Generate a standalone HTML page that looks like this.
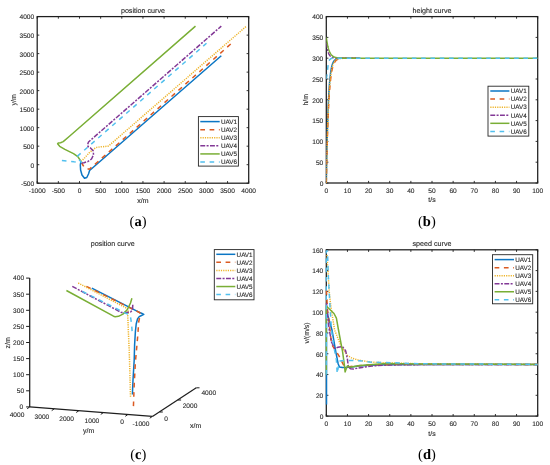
<!DOCTYPE html>
<html><head><meta charset="utf-8"><style>
html,body{margin:0;padding:0;background:#fff;}
svg{display:block;}
#w{width:550px;height:465px;}
text{font-family:"Liberation Sans",Arial,sans-serif;text-rendering:geometricPrecision;stroke:#303030;stroke-width:0.12px;}
text.cap{font-family:"Liberation Serif",serif;stroke:none;}
tspan.b{font-weight:bold;}
</style></head><body>
<div id="w"><svg width="550" height="465" viewBox="0 0 550 465">
<rect width="550" height="465" fill="#fff"/>
<clipPath id="cA"><rect x="37.2" y="16.6" width="211.5" height="166.6"/></clipPath>
<rect x="37.2" y="16.6" width="211.5" height="166.6" fill="none" stroke="#1e1e1e" stroke-width="1.25"/>
<line x1="37.2" y1="183.2" x2="37.2" y2="181.1" stroke="#1e1e1e" stroke-width="0.9"/>
<line x1="37.2" y1="16.6" x2="37.2" y2="18.7" stroke="#1e1e1e" stroke-width="0.9"/>
<text x="37.2" y="193.2" font-size="6.6" text-anchor="middle" fill="#262626">-1000</text>
<line x1="58.35" y1="183.2" x2="58.35" y2="181.1" stroke="#1e1e1e" stroke-width="0.9"/>
<line x1="58.35" y1="16.6" x2="58.35" y2="18.7" stroke="#1e1e1e" stroke-width="0.9"/>
<text x="58.35" y="193.2" font-size="6.6" text-anchor="middle" fill="#262626">-500</text>
<line x1="79.5" y1="183.2" x2="79.5" y2="181.1" stroke="#1e1e1e" stroke-width="0.9"/>
<line x1="79.5" y1="16.6" x2="79.5" y2="18.7" stroke="#1e1e1e" stroke-width="0.9"/>
<text x="79.5" y="193.2" font-size="6.6" text-anchor="middle" fill="#262626">0</text>
<line x1="100.65" y1="183.2" x2="100.65" y2="181.1" stroke="#1e1e1e" stroke-width="0.9"/>
<line x1="100.65" y1="16.6" x2="100.65" y2="18.7" stroke="#1e1e1e" stroke-width="0.9"/>
<text x="100.65" y="193.2" font-size="6.6" text-anchor="middle" fill="#262626">500</text>
<line x1="121.8" y1="183.2" x2="121.8" y2="181.1" stroke="#1e1e1e" stroke-width="0.9"/>
<line x1="121.8" y1="16.6" x2="121.8" y2="18.7" stroke="#1e1e1e" stroke-width="0.9"/>
<text x="121.8" y="193.2" font-size="6.6" text-anchor="middle" fill="#262626">1000</text>
<line x1="142.95" y1="183.2" x2="142.95" y2="181.1" stroke="#1e1e1e" stroke-width="0.9"/>
<line x1="142.95" y1="16.6" x2="142.95" y2="18.7" stroke="#1e1e1e" stroke-width="0.9"/>
<text x="142.95" y="193.2" font-size="6.6" text-anchor="middle" fill="#262626">1500</text>
<line x1="164.1" y1="183.2" x2="164.1" y2="181.1" stroke="#1e1e1e" stroke-width="0.9"/>
<line x1="164.1" y1="16.6" x2="164.1" y2="18.7" stroke="#1e1e1e" stroke-width="0.9"/>
<text x="164.1" y="193.2" font-size="6.6" text-anchor="middle" fill="#262626">2000</text>
<line x1="185.25" y1="183.2" x2="185.25" y2="181.1" stroke="#1e1e1e" stroke-width="0.9"/>
<line x1="185.25" y1="16.6" x2="185.25" y2="18.7" stroke="#1e1e1e" stroke-width="0.9"/>
<text x="185.25" y="193.2" font-size="6.6" text-anchor="middle" fill="#262626">2500</text>
<line x1="206.4" y1="183.2" x2="206.4" y2="181.1" stroke="#1e1e1e" stroke-width="0.9"/>
<line x1="206.4" y1="16.6" x2="206.4" y2="18.7" stroke="#1e1e1e" stroke-width="0.9"/>
<text x="206.4" y="193.2" font-size="6.6" text-anchor="middle" fill="#262626">3000</text>
<line x1="227.55" y1="183.2" x2="227.55" y2="181.1" stroke="#1e1e1e" stroke-width="0.9"/>
<line x1="227.55" y1="16.6" x2="227.55" y2="18.7" stroke="#1e1e1e" stroke-width="0.9"/>
<text x="227.55" y="193.2" font-size="6.6" text-anchor="middle" fill="#262626">3500</text>
<line x1="248.7" y1="183.2" x2="248.7" y2="181.1" stroke="#1e1e1e" stroke-width="0.9"/>
<line x1="248.7" y1="16.6" x2="248.7" y2="18.7" stroke="#1e1e1e" stroke-width="0.9"/>
<text x="248.7" y="193.2" font-size="6.6" text-anchor="middle" fill="#262626">4000</text>
<line x1="37.2" y1="183.2" x2="39.3" y2="183.2" stroke="#1e1e1e" stroke-width="0.9"/>
<line x1="248.7" y1="183.2" x2="246.6" y2="183.2" stroke="#1e1e1e" stroke-width="0.9"/>
<text x="34.2" y="186.08" font-size="6.6" text-anchor="end" fill="#262626">-500</text>
<line x1="37.2" y1="164.69" x2="39.3" y2="164.69" stroke="#1e1e1e" stroke-width="0.9"/>
<line x1="248.7" y1="164.69" x2="246.6" y2="164.69" stroke="#1e1e1e" stroke-width="0.9"/>
<text x="34.2" y="167.56" font-size="6.6" text-anchor="end" fill="#262626">0</text>
<line x1="37.2" y1="146.18" x2="39.3" y2="146.18" stroke="#1e1e1e" stroke-width="0.9"/>
<line x1="248.7" y1="146.18" x2="246.6" y2="146.18" stroke="#1e1e1e" stroke-width="0.9"/>
<text x="34.2" y="149.05" font-size="6.6" text-anchor="end" fill="#262626">500</text>
<line x1="37.2" y1="127.67" x2="39.3" y2="127.67" stroke="#1e1e1e" stroke-width="0.9"/>
<line x1="248.7" y1="127.67" x2="246.6" y2="127.67" stroke="#1e1e1e" stroke-width="0.9"/>
<text x="34.2" y="130.54" font-size="6.6" text-anchor="end" fill="#262626">1000</text>
<line x1="37.2" y1="109.16" x2="39.3" y2="109.16" stroke="#1e1e1e" stroke-width="0.9"/>
<line x1="248.7" y1="109.16" x2="246.6" y2="109.16" stroke="#1e1e1e" stroke-width="0.9"/>
<text x="34.2" y="112.03" font-size="6.6" text-anchor="end" fill="#262626">1500</text>
<line x1="37.2" y1="90.64" x2="39.3" y2="90.64" stroke="#1e1e1e" stroke-width="0.9"/>
<line x1="248.7" y1="90.64" x2="246.6" y2="90.64" stroke="#1e1e1e" stroke-width="0.9"/>
<text x="34.2" y="93.52" font-size="6.6" text-anchor="end" fill="#262626">2000</text>
<line x1="37.2" y1="72.13" x2="39.3" y2="72.13" stroke="#1e1e1e" stroke-width="0.9"/>
<line x1="248.7" y1="72.13" x2="246.6" y2="72.13" stroke="#1e1e1e" stroke-width="0.9"/>
<text x="34.2" y="75.01" font-size="6.6" text-anchor="end" fill="#262626">2500</text>
<line x1="37.2" y1="53.62" x2="39.3" y2="53.62" stroke="#1e1e1e" stroke-width="0.9"/>
<line x1="248.7" y1="53.62" x2="246.6" y2="53.62" stroke="#1e1e1e" stroke-width="0.9"/>
<text x="34.2" y="56.5" font-size="6.6" text-anchor="end" fill="#262626">3000</text>
<line x1="37.2" y1="35.11" x2="39.3" y2="35.11" stroke="#1e1e1e" stroke-width="0.9"/>
<line x1="248.7" y1="35.11" x2="246.6" y2="35.11" stroke="#1e1e1e" stroke-width="0.9"/>
<text x="34.2" y="37.99" font-size="6.6" text-anchor="end" fill="#262626">3500</text>
<line x1="37.2" y1="16.6" x2="39.3" y2="16.6" stroke="#1e1e1e" stroke-width="0.9"/>
<line x1="248.7" y1="16.6" x2="246.6" y2="16.6" stroke="#1e1e1e" stroke-width="0.9"/>
<text x="34.2" y="19.48" font-size="6.6" text-anchor="end" fill="#262626">4000</text>
<text x="142.95" y="13.2" font-size="7.15" text-anchor="middle" fill="#262626">position curve</text>
<text x="142.95" y="202.6" font-size="6.95" text-anchor="middle" fill="#262626">x/m</text>
<text x="15.6" y="99.9" font-size="6.95" text-anchor="middle" fill="#262626" transform="rotate(-90 15.6 99.9)">y/m</text>
<polyline points="80.8,161.8 80.3,165 80.6,170 82,175 84.5,178.3 86.8,177.5 88.5,174 89.6,170.5 221.3,55.8" fill="none" stroke="#0B76C4" stroke-width="1.5" stroke-linejoin="round" clip-path="url(#cA)"/>
<polyline points="81.5,162.3 82.5,164.5 84,166.8 86.5,168.5 89.3,169.3 231,43.8" fill="none" stroke="#DB5A22" stroke-width="1.5" stroke-dasharray="4.7 4.6" stroke-linejoin="round" clip-path="url(#cA)"/>
<polyline points="81,161.5 85,157.5 89,153 93.6,149 97,147.3 101,146.8 105,146.5 108.5,146 246.5,26.1" fill="none" stroke="#EEB42A" stroke-width="1.5" stroke-dasharray="1.2 1.1" stroke-linejoin="round" clip-path="url(#cA)"/>
<polyline points="81.3,163 84,162.7 88,161.5 91.5,159 93.5,155 93.3,151 90.5,148 88,146.5 87.6,144.5 88.5,142 221.3,26.1" fill="none" stroke="#823896" stroke-width="1.5" stroke-dasharray="4.9 1.4 2.0 1.4" stroke-linejoin="round" clip-path="url(#cA)"/>
<polyline points="80.4,160.5 77.8,156.7 73.5,153.7 64.9,149.4 59.7,146.3 57.6,143.8 58.5,142.9 60.6,142.7 63.2,141.6 69.2,136.5 195.5,26.1" fill="none" stroke="#79AE35" stroke-width="1.5" stroke-linejoin="round" clip-path="url(#cA)"/>
<polyline points="61.9,160.5 68,161.2 74,161.8 81.5,162.3 78.5,159 76.5,157 206.5,43.3" fill="none" stroke="#52C0EE" stroke-width="1.5" stroke-dasharray="4.6 4.7" stroke-linejoin="round" clip-path="url(#cA)"/>
<rect x="198.4" y="116.6" width="40" height="49.5" fill="#fff" stroke="#262626" stroke-width="0.9"/>
<line x1="200.3" y1="121.6" x2="219.7" y2="121.6" stroke="#0B76C4" stroke-width="1.5"/>
<text x="221" y="123.87" font-size="6.3" text-anchor="start" fill="#262626">UAV1</text>
<line x1="200.3" y1="129.68" x2="219.7" y2="129.68" stroke="#DB5A22" stroke-width="1.5" stroke-dasharray="4.7 4.6"/>
<text x="221" y="131.95" font-size="6.3" text-anchor="start" fill="#262626">UAV2</text>
<line x1="200.3" y1="137.76" x2="219.7" y2="137.76" stroke="#EEB42A" stroke-width="1.5" stroke-dasharray="1.2 1.1"/>
<text x="221" y="140.03" font-size="6.3" text-anchor="start" fill="#262626">UAV3</text>
<line x1="200.3" y1="145.84" x2="219.7" y2="145.84" stroke="#823896" stroke-width="1.5" stroke-dasharray="4.9 1.4 2.0 1.4"/>
<text x="221" y="148.11" font-size="6.3" text-anchor="start" fill="#262626">UAV4</text>
<line x1="200.3" y1="153.92" x2="219.7" y2="153.92" stroke="#79AE35" stroke-width="1.5"/>
<text x="221" y="156.19" font-size="6.3" text-anchor="start" fill="#262626">UAV5</text>
<line x1="200.3" y1="162" x2="219.7" y2="162" stroke="#52C0EE" stroke-width="1.5" stroke-dasharray="4.6 4.7"/>
<text x="221" y="164.27" font-size="6.3" text-anchor="start" fill="#262626">UAV6</text>
<clipPath id="cB"><rect x="326.3" y="16.6" width="211.40000000000003" height="166.4"/></clipPath>
<rect x="326.3" y="16.6" width="211.4" height="166.4" fill="none" stroke="#1e1e1e" stroke-width="1.25"/>
<line x1="326.3" y1="183" x2="326.3" y2="180.9" stroke="#1e1e1e" stroke-width="0.9"/>
<line x1="326.3" y1="16.6" x2="326.3" y2="18.7" stroke="#1e1e1e" stroke-width="0.9"/>
<text x="326.3" y="193" font-size="6.6" text-anchor="middle" fill="#262626">0</text>
<line x1="347.44" y1="183" x2="347.44" y2="180.9" stroke="#1e1e1e" stroke-width="0.9"/>
<line x1="347.44" y1="16.6" x2="347.44" y2="18.7" stroke="#1e1e1e" stroke-width="0.9"/>
<text x="347.44" y="193" font-size="6.6" text-anchor="middle" fill="#262626">10</text>
<line x1="368.58" y1="183" x2="368.58" y2="180.9" stroke="#1e1e1e" stroke-width="0.9"/>
<line x1="368.58" y1="16.6" x2="368.58" y2="18.7" stroke="#1e1e1e" stroke-width="0.9"/>
<text x="368.58" y="193" font-size="6.6" text-anchor="middle" fill="#262626">20</text>
<line x1="389.72" y1="183" x2="389.72" y2="180.9" stroke="#1e1e1e" stroke-width="0.9"/>
<line x1="389.72" y1="16.6" x2="389.72" y2="18.7" stroke="#1e1e1e" stroke-width="0.9"/>
<text x="389.72" y="193" font-size="6.6" text-anchor="middle" fill="#262626">30</text>
<line x1="410.86" y1="183" x2="410.86" y2="180.9" stroke="#1e1e1e" stroke-width="0.9"/>
<line x1="410.86" y1="16.6" x2="410.86" y2="18.7" stroke="#1e1e1e" stroke-width="0.9"/>
<text x="410.86" y="193" font-size="6.6" text-anchor="middle" fill="#262626">40</text>
<line x1="432" y1="183" x2="432" y2="180.9" stroke="#1e1e1e" stroke-width="0.9"/>
<line x1="432" y1="16.6" x2="432" y2="18.7" stroke="#1e1e1e" stroke-width="0.9"/>
<text x="432" y="193" font-size="6.6" text-anchor="middle" fill="#262626">50</text>
<line x1="453.14" y1="183" x2="453.14" y2="180.9" stroke="#1e1e1e" stroke-width="0.9"/>
<line x1="453.14" y1="16.6" x2="453.14" y2="18.7" stroke="#1e1e1e" stroke-width="0.9"/>
<text x="453.14" y="193" font-size="6.6" text-anchor="middle" fill="#262626">60</text>
<line x1="474.28" y1="183" x2="474.28" y2="180.9" stroke="#1e1e1e" stroke-width="0.9"/>
<line x1="474.28" y1="16.6" x2="474.28" y2="18.7" stroke="#1e1e1e" stroke-width="0.9"/>
<text x="474.28" y="193" font-size="6.6" text-anchor="middle" fill="#262626">70</text>
<line x1="495.42" y1="183" x2="495.42" y2="180.9" stroke="#1e1e1e" stroke-width="0.9"/>
<line x1="495.42" y1="16.6" x2="495.42" y2="18.7" stroke="#1e1e1e" stroke-width="0.9"/>
<text x="495.42" y="193" font-size="6.6" text-anchor="middle" fill="#262626">80</text>
<line x1="516.56" y1="183" x2="516.56" y2="180.9" stroke="#1e1e1e" stroke-width="0.9"/>
<line x1="516.56" y1="16.6" x2="516.56" y2="18.7" stroke="#1e1e1e" stroke-width="0.9"/>
<text x="516.56" y="193" font-size="6.6" text-anchor="middle" fill="#262626">90</text>
<line x1="537.7" y1="183" x2="537.7" y2="180.9" stroke="#1e1e1e" stroke-width="0.9"/>
<line x1="537.7" y1="16.6" x2="537.7" y2="18.7" stroke="#1e1e1e" stroke-width="0.9"/>
<text x="537.7" y="193" font-size="6.6" text-anchor="middle" fill="#262626">100</text>
<line x1="326.3" y1="183" x2="328.4" y2="183" stroke="#1e1e1e" stroke-width="0.9"/>
<line x1="537.7" y1="183" x2="535.6" y2="183" stroke="#1e1e1e" stroke-width="0.9"/>
<text x="323.3" y="185.88" font-size="6.6" text-anchor="end" fill="#262626">0</text>
<line x1="326.3" y1="162.2" x2="328.4" y2="162.2" stroke="#1e1e1e" stroke-width="0.9"/>
<line x1="537.7" y1="162.2" x2="535.6" y2="162.2" stroke="#1e1e1e" stroke-width="0.9"/>
<text x="323.3" y="165.08" font-size="6.6" text-anchor="end" fill="#262626">50</text>
<line x1="326.3" y1="141.4" x2="328.4" y2="141.4" stroke="#1e1e1e" stroke-width="0.9"/>
<line x1="537.7" y1="141.4" x2="535.6" y2="141.4" stroke="#1e1e1e" stroke-width="0.9"/>
<text x="323.3" y="144.28" font-size="6.6" text-anchor="end" fill="#262626">100</text>
<line x1="326.3" y1="120.6" x2="328.4" y2="120.6" stroke="#1e1e1e" stroke-width="0.9"/>
<line x1="537.7" y1="120.6" x2="535.6" y2="120.6" stroke="#1e1e1e" stroke-width="0.9"/>
<text x="323.3" y="123.48" font-size="6.6" text-anchor="end" fill="#262626">150</text>
<line x1="326.3" y1="99.8" x2="328.4" y2="99.8" stroke="#1e1e1e" stroke-width="0.9"/>
<line x1="537.7" y1="99.8" x2="535.6" y2="99.8" stroke="#1e1e1e" stroke-width="0.9"/>
<text x="323.3" y="102.68" font-size="6.6" text-anchor="end" fill="#262626">200</text>
<line x1="326.3" y1="79" x2="328.4" y2="79" stroke="#1e1e1e" stroke-width="0.9"/>
<line x1="537.7" y1="79" x2="535.6" y2="79" stroke="#1e1e1e" stroke-width="0.9"/>
<text x="323.3" y="81.88" font-size="6.6" text-anchor="end" fill="#262626">250</text>
<line x1="326.3" y1="58.2" x2="328.4" y2="58.2" stroke="#1e1e1e" stroke-width="0.9"/>
<line x1="537.7" y1="58.2" x2="535.6" y2="58.2" stroke="#1e1e1e" stroke-width="0.9"/>
<text x="323.3" y="61.08" font-size="6.6" text-anchor="end" fill="#262626">300</text>
<line x1="326.3" y1="37.4" x2="328.4" y2="37.4" stroke="#1e1e1e" stroke-width="0.9"/>
<line x1="537.7" y1="37.4" x2="535.6" y2="37.4" stroke="#1e1e1e" stroke-width="0.9"/>
<text x="323.3" y="40.28" font-size="6.6" text-anchor="end" fill="#262626">350</text>
<line x1="326.3" y1="16.6" x2="328.4" y2="16.6" stroke="#1e1e1e" stroke-width="0.9"/>
<line x1="537.7" y1="16.6" x2="535.6" y2="16.6" stroke="#1e1e1e" stroke-width="0.9"/>
<text x="323.3" y="19.48" font-size="6.6" text-anchor="end" fill="#262626">400</text>
<text x="432" y="13.2" font-size="7.15" text-anchor="middle" fill="#262626">height curve</text>
<text x="432" y="202.4" font-size="6.95" text-anchor="middle" fill="#262626">t/s</text>
<text x="308.25" y="99.8" font-size="6.95" text-anchor="middle" fill="#262626" transform="rotate(-90 308.25 99.8)">h/m</text>
<polyline points="326.3,183 326.41,176.6 326.51,170.53 326.62,164.77 326.72,159.31 326.83,154.12 326.93,149.21 327.04,144.54 327.15,140.11 327.25,135.91 327.36,131.93 327.46,128.15 327.57,124.56 327.67,121.16 327.78,117.93 327.89,114.87 327.99,111.96 328.1,109.21 328.2,106.59 328.31,104.11 328.41,101.76 328.52,99.52 328.63,97.41 328.73,95.4 328.84,93.49 328.94,91.68 329.05,89.96 329.15,88.33 329.26,86.79 329.37,85.32 329.47,83.93 329.58,82.61 329.68,81.36 329.79,80.17 329.89,79.05 330,77.98 330.11,76.96 330.21,76 330.32,75.09 330.42,74.22 330.53,73.4 330.63,72.62 330.74,71.88 330.85,71.18 330.95,70.52 331.06,69.88 331.16,69.29 331.27,68.72 331.37,68.18 331.48,67.67 331.59,67.18 331.69,66.72 331.8,66.28 331.9,65.87 332.01,65.48 332.11,65.1 332.22,64.75 332.32,64.41 332.43,64.09 332.54,63.79 332.64,63.51 332.75,63.23 332.85,62.98 332.96,62.73 333.06,62.5 333.17,62.28 333.28,62.07 333.38,61.87 333.49,61.68 333.59,61.5 333.7,61.33 333.8,61.17 333.91,61.02 334.02,60.88 334.12,60.74 334.23,60.61 334.33,60.49 334.44,60.37 334.54,60.26 334.65,60.15 334.76,60.05 334.86,59.96 334.97,59.87 335.07,59.78 335.18,59.7 335.28,59.62 335.39,59.55 335.5,59.48 335.6,59.42 335.71,59.35 335.81,59.29 335.92,59.24 336.02,59.18 336.13,59.13 336.24,59.09 336.34,59.04 336.45,59 336.55,58.96 336.66,58.92 336.76,58.88 336.87,58.85 336.98,58.81 337.08,58.78 337.19,58.75 337.29,58.72 337.4,58.7 337.5,58.67 337.61,58.65 337.72,58.62 337.82,58.6 337.93,58.58 338.03,58.56 338.14,58.54 338.24,58.53 338.35,58.51 338.46,58.49 338.56,58.48 338.67,58.46 338.77,58.45 338.88,58.44 338.98,58.43 339.09,58.41 339.2,58.4 339.3,58.39 339.41,58.38 339.51,58.37 339.62,58.36 339.72,58.36 339.83,58.35 339.94,58.34 340.04,58.33 340.15,58.33 340.25,58.32 340.36,58.31 340.46,58.31 340.57,58.3 340.68,58.3 340.78,58.29 340.89,58.29 340.99,58.28 341.1,58.28 341.2,58.27 341.31,58.27 341.42,58.27 341.52,58.26 341.63,58.26 341.73,58.26 341.84,58.25 341.94,58.25 342.05,58.25 342.15,58.25 342.26,58.24 342.37,58.24 342.47,58.24 342.58,58.24 342.68,58.24 342.79,58.23 342.89,58.23 343,58.23 343.11,58.23 343.21,58.23 343.32,58.23 343.42,58.22 343.53,58.22 343.63,58.22 343.74,58.22 343.85,58.22 343.95,58.22 344.06,58.22 344.16,58.22 344.27,58.22 344.37,58.22 344.48,58.21 344.59,58.21 344.69,58.21 344.8,58.21 344.9,58.21 345.01,58.21 345.11,58.21 345.22,58.21 345.33,58.21 345.43,58.21 345.54,58.21 345.64,58.21 345.75,58.21 345.85,58.21 345.96,58.21 346.07,58.21 346.17,58.21 346.28,58.21 346.38,58.21 346.49,58.21 346.59,58.21 346.7,58.2 346.81,58.2 346.91,58.2 347.02,58.2 347.12,58.2 347.23,58.2 347.33,58.2 347.44,58.2 347.55,58.2 347.65,58.2 347.76,58.2 347.86,58.2 347.97,58.2 348.07,58.2 348.18,58.2 348.29,58.2 348.39,58.2 348.5,58.2 348.6,58.2 348.71,58.2 348.81,58.2 348.92,58.2 349.03,58.2 349.13,58.2 349.24,58.2 349.34,58.2 349.45,58.2 349.55,58.2 349.66,58.2 349.77,58.2 349.87,58.2 349.98,58.2 350.08,58.2 350.19,58.2 350.29,58.2 350.4,58.2 350.51,58.2 350.61,58.2 350.72,58.2 350.82,58.2 350.93,58.2 351.03,58.2 351.14,58.2 351.25,58.2 351.35,58.2 351.46,58.2 351.56,58.2 351.67,58.2 355.9,58.2 360.12,58.2" fill="none" stroke="#0B76C4" stroke-width="1.5" stroke-linejoin="round" clip-path="url(#cB)"/>
<polyline points="326.3,183 326.41,177.69 326.51,172.61 326.62,167.74 326.72,163.08 326.83,158.62 326.93,154.34 327.04,150.25 327.15,146.34 327.25,142.59 327.36,139 327.46,135.56 327.57,132.27 327.67,129.12 327.78,126.1 327.89,123.21 327.99,120.44 328.1,117.8 328.2,115.26 328.31,112.83 328.41,110.51 328.52,108.28 328.63,106.15 328.73,104.11 328.84,102.16 328.94,100.29 329.05,98.5 329.15,96.78 329.26,95.14 329.37,93.57 329.47,92.06 329.58,90.62 329.68,89.24 329.79,87.92 329.89,86.66 330,85.45 330.11,84.29 330.21,83.18 330.32,82.12 330.42,81.1 330.53,80.12 330.63,79.19 330.74,78.3 330.85,77.44 330.95,76.62 331.06,75.84 331.16,75.09 331.27,74.37 331.37,73.68 331.48,73.02 331.59,72.39 331.69,71.79 331.8,71.21 331.9,70.66 332.01,70.13 332.11,69.62 332.22,69.13 332.32,68.67 332.43,68.22 332.54,67.8 332.64,67.39 332.75,67 332.85,66.62 332.96,66.27 333.06,65.92 333.17,65.59 333.28,65.28 333.38,64.98 333.49,64.69 333.59,64.41 333.7,64.15 333.8,63.9 333.91,63.65 334.02,63.42 334.12,63.2 334.23,62.99 334.33,62.78 334.44,62.59 334.54,62.4 334.65,62.22 334.76,62.05 334.86,61.89 334.97,61.73 335.07,61.58 335.18,61.44 335.28,61.3 335.39,61.17 335.5,61.04 335.6,60.92 335.71,60.8 335.81,60.69 335.92,60.59 336.02,60.49 336.13,60.39 336.24,60.3 336.34,60.21 336.45,60.12 336.55,60.04 336.66,59.96 336.76,59.89 336.87,59.81 336.98,59.75 337.08,59.68 337.19,59.62 337.29,59.56 337.4,59.5 337.5,59.44 337.61,59.39 337.72,59.34 337.82,59.29 337.93,59.25 338.03,59.2 338.14,59.16 338.24,59.12 338.35,59.08 338.46,59.04 338.56,59.01 338.67,58.97 338.77,58.94 338.88,58.91 338.98,58.88 339.09,58.85 339.2,58.82 339.3,58.79 339.41,58.77 339.51,58.74 339.62,58.72 339.72,58.7 339.83,58.68 339.94,58.66 340.04,58.64 340.15,58.62 340.25,58.6 340.36,58.58 340.46,58.57 340.57,58.55 340.68,58.54 340.78,58.52 340.89,58.51 340.99,58.5 341.1,58.48 341.2,58.47 341.31,58.46 341.42,58.45 341.52,58.44 341.63,58.43 341.73,58.42 341.84,58.41 341.94,58.4 342.05,58.39 342.15,58.38 342.26,58.38 342.37,58.37 342.47,58.36 342.58,58.35 342.68,58.35 342.79,58.34 342.89,58.34 343,58.33 343.11,58.32 343.21,58.32 343.32,58.31 343.42,58.31 343.53,58.3 343.63,58.3 343.74,58.3 343.85,58.29 343.95,58.29 344.06,58.28 344.16,58.28 344.27,58.28 344.37,58.27 344.48,58.27 344.59,58.27 344.69,58.26 344.8,58.26 344.9,58.26 345.01,58.26 345.11,58.25 345.22,58.25 345.33,58.25 345.43,58.25 345.54,58.25 345.64,58.24 345.75,58.24 345.85,58.24 345.96,58.24 346.07,58.24 346.17,58.24 346.28,58.23 346.38,58.23 346.49,58.23 346.59,58.23 346.7,58.23 346.81,58.23 346.91,58.23 347.02,58.22 347.12,58.22 347.23,58.22 347.33,58.22 347.44,58.22 347.55,58.22 347.65,58.22 347.76,58.22 347.86,58.22 347.97,58.22 348.07,58.22 348.18,58.22 348.29,58.21 348.39,58.21 348.5,58.21 348.6,58.21 348.71,58.21 348.81,58.21 348.92,58.21 349.03,58.21 349.13,58.21 349.24,58.21 349.34,58.21 349.45,58.21 349.55,58.21 349.66,58.21 349.77,58.21 349.87,58.21 349.98,58.21 350.08,58.21 350.19,58.21 350.29,58.21 350.4,58.21 350.51,58.21 350.61,58.21 350.72,58.21 350.82,58.21 350.93,58.2 351.03,58.2 351.14,58.2 351.25,58.2 351.35,58.2 351.46,58.2 351.56,58.2 351.67,58.2 355.9,58.2 360.12,58.2" fill="none" stroke="#DB5A22" stroke-width="1.5" stroke-dasharray="4.7 4.6" stroke-linejoin="round" clip-path="url(#cB)"/>
<polyline points="326.3,183 326.41,177.2 326.51,171.66 326.62,166.39 326.72,161.36 326.83,156.56 326.93,151.98 327.04,147.62 327.15,143.46 327.25,139.5 327.36,135.72 327.46,132.11 327.57,128.68 327.67,125.4 327.78,122.27 327.89,119.29 327.99,116.45 328.1,113.74 328.2,111.16 328.31,108.7 328.41,106.35 328.52,104.11 328.63,101.98 328.73,99.94 328.84,98 328.94,96.15 329.05,94.38 329.15,92.7 329.26,91.1 329.37,89.57 329.47,88.11 329.58,86.72 329.68,85.39 329.79,84.13 329.89,82.92 330,81.77 330.11,80.68 330.21,79.63 330.32,78.63 330.42,77.68 330.53,76.78 330.63,75.91 330.74,75.09 330.85,74.3 330.95,73.56 331.06,72.84 331.16,72.16 331.27,71.51 331.37,70.89 331.48,70.3 331.59,69.74 331.69,69.2 331.8,68.69 331.9,68.2 332.01,67.74 332.11,67.29 332.22,66.87 332.32,66.47 332.43,66.08 332.54,65.72 332.64,65.37 332.75,65.03 332.85,64.72 332.96,64.41 333.06,64.12 333.17,63.85 333.28,63.59 333.38,63.34 333.49,63.1 333.59,62.87 333.7,62.65 333.8,62.45 333.91,62.25 334.02,62.06 334.12,61.88 334.23,61.71 334.33,61.55 334.44,61.39 334.54,61.24 334.65,61.1 334.76,60.97 334.86,60.84 334.97,60.71 335.07,60.6 335.18,60.49 335.28,60.38 335.39,60.28 335.5,60.18 335.6,60.09 335.71,60 335.81,59.92 335.92,59.84 336.02,59.76 336.13,59.69 336.24,59.62 336.34,59.55 336.45,59.49 336.55,59.43 336.66,59.37 336.76,59.32 336.87,59.27 336.98,59.22 337.08,59.17 337.19,59.12 337.29,59.08 337.4,59.04 337.5,59 337.61,58.96 337.72,58.93 337.82,58.9 337.93,58.86 338.03,58.83 338.14,58.8 338.24,58.77 338.35,58.75 338.46,58.72 338.56,58.7 338.67,58.67 338.77,58.65 338.88,58.63 338.98,58.61 339.09,58.59 339.2,58.57 339.3,58.56 339.41,58.54 339.51,58.52 339.62,58.51 339.72,58.49 339.83,58.48 339.94,58.47 340.04,58.46 340.15,58.44 340.25,58.43 340.36,58.42 340.46,58.41 340.57,58.4 340.68,58.39 340.78,58.38 340.89,58.37 340.99,58.37 341.1,58.36 341.2,58.35 341.31,58.34 341.42,58.34 341.52,58.33 341.63,58.33 341.73,58.32 341.84,58.31 341.94,58.31 342.05,58.3 342.15,58.3 342.26,58.29 342.37,58.29 342.47,58.29 342.58,58.28 342.68,58.28 342.79,58.27 342.89,58.27 343,58.27 343.11,58.26 343.21,58.26 343.32,58.26 343.42,58.26 343.53,58.25 343.63,58.25 343.74,58.25 343.85,58.25 343.95,58.24 344.06,58.24 344.16,58.24 344.27,58.24 344.37,58.24 344.48,58.23 344.59,58.23 344.69,58.23 344.8,58.23 344.9,58.23 345.01,58.23 345.11,58.23 345.22,58.22 345.33,58.22 345.43,58.22 345.54,58.22 345.64,58.22 345.75,58.22 345.85,58.22 345.96,58.22 346.07,58.22 346.17,58.22 346.28,58.22 346.38,58.21 346.49,58.21 346.59,58.21 346.7,58.21 346.81,58.21 346.91,58.21 347.02,58.21 347.12,58.21 347.23,58.21 347.33,58.21 347.44,58.21 347.55,58.21 347.65,58.21 347.76,58.21 347.86,58.21 347.97,58.21 348.07,58.21 348.18,58.21 348.29,58.21 348.39,58.21 348.5,58.21 348.6,58.21 348.71,58.21 348.81,58.2 348.92,58.2 349.03,58.2 349.13,58.2 349.24,58.2 349.34,58.2 349.45,58.2 349.55,58.2 349.66,58.2 349.77,58.2 349.87,58.2 349.98,58.2 350.08,58.2 350.19,58.2 350.29,58.2 350.4,58.2 350.51,58.2 350.61,58.2 350.72,58.2 350.82,58.2 350.93,58.2 351.03,58.2 351.14,58.2 351.25,58.2 351.35,58.2 351.46,58.2 351.56,58.2 351.67,58.2 355.9,58.2 360.12,58.2" fill="none" stroke="#EEB42A" stroke-width="1.5" stroke-dasharray="1.2 1.1" stroke-linejoin="round" clip-path="url(#cB)"/>
<polyline points="326.3,42.81 326.41,43.6 326.51,44.35 326.62,45.06 326.72,45.73 326.83,46.37 326.93,46.98 327.04,47.55 327.15,48.1 327.25,48.62 327.36,49.11 327.46,49.57 327.57,50.02 327.67,50.43 327.78,50.83 327.89,51.21 327.99,51.57 328.1,51.91 328.2,52.23 328.31,52.54 328.41,52.83 328.52,53.1 328.63,53.36 328.73,53.61 328.84,53.85 328.94,54.07 329.05,54.28 329.15,54.48 329.26,54.67 329.37,54.85 329.47,55.03 329.58,55.19 329.68,55.34 329.79,55.49 329.89,55.63 330,55.76 330.11,55.89 330.21,56 330.32,56.12 330.42,56.22 330.53,56.33 330.63,56.42 330.74,56.51 330.85,56.6 330.95,56.68 331.06,56.76 331.16,56.83 331.27,56.9 331.37,56.97 331.48,57.03 331.59,57.09 331.69,57.15 331.8,57.2 331.9,57.25 332.01,57.3 332.11,57.35 332.22,57.39 332.32,57.43 332.43,57.47 332.54,57.51 332.64,57.55 332.75,57.58 332.85,57.61 332.96,57.64 333.06,57.67 333.17,57.7 333.28,57.72 333.38,57.75 333.49,57.77 333.59,57.79 333.7,57.81 333.8,57.83 333.91,57.85 334.02,57.87 334.12,57.89 334.23,57.9 334.33,57.92 334.44,57.93 334.54,57.95 334.65,57.96 334.76,57.97 334.86,57.98 334.97,57.99 335.07,58 335.18,58.01 335.28,58.02 335.39,58.03 335.5,58.04 335.6,58.05 335.71,58.06 335.81,58.07 335.92,58.07 336.02,58.08 336.13,58.08 336.24,58.09 336.34,58.1 336.45,58.1 336.55,58.11 336.66,58.11 336.76,58.12 336.87,58.12 336.98,58.12 337.08,58.13 337.19,58.13 337.29,58.14 337.4,58.14 337.5,58.14 337.61,58.14 337.72,58.15 337.82,58.15 337.93,58.15 338.03,58.16 338.14,58.16 338.24,58.16 338.35,58.16 338.46,58.16 338.56,58.17 338.67,58.17 338.77,58.17 338.88,58.17 338.98,58.17 339.09,58.17 339.2,58.17 339.3,58.18 339.41,58.18 339.51,58.18 339.62,58.18 339.72,58.18 339.83,58.18 339.94,58.18 340.04,58.18 340.15,58.18 340.25,58.19 340.36,58.19 340.46,58.19 340.57,58.19 340.68,58.19 340.78,58.19 340.89,58.19 340.99,58.19 341.1,58.19 341.2,58.19 341.31,58.19 341.42,58.19 341.52,58.19 341.63,58.19 341.73,58.19 341.84,58.19 341.94,58.19 342.05,58.19 342.15,58.19 342.26,58.19 342.37,58.19 342.47,58.2 342.58,58.2 342.68,58.2 342.79,58.2 342.89,58.2 343,58.2 343.11,58.2 343.21,58.2 343.32,58.2 343.42,58.2 343.53,58.2 343.63,58.2 343.74,58.2 343.85,58.2 343.95,58.2 344.06,58.2 344.16,58.2 344.27,58.2 344.37,58.2 344.48,58.2 344.59,58.2 344.69,58.2 344.8,58.2 344.9,58.2 345.01,58.2 345.11,58.2 345.22,58.2 345.33,58.2 345.43,58.2 345.54,58.2 345.64,58.2 345.75,58.2 345.85,58.2 345.96,58.2 346.07,58.2 346.17,58.2 346.28,58.2 346.38,58.2 346.49,58.2 346.59,58.2 346.7,58.2 346.81,58.2 346.91,58.2 347.02,58.2 347.12,58.2 347.23,58.2 347.33,58.2 347.44,58.2 347.55,58.2 347.65,58.2 347.76,58.2 347.86,58.2 347.97,58.2 348.07,58.2 348.18,58.2 348.29,58.2 348.39,58.2 348.5,58.2 348.6,58.2 348.71,58.2 348.81,58.2 348.92,58.2 349.03,58.2 349.13,58.2 349.24,58.2 349.34,58.2 349.45,58.2 349.55,58.2 349.66,58.2 349.77,58.2 349.87,58.2 349.98,58.2 350.08,58.2 350.19,58.2 350.29,58.2 350.4,58.2 350.51,58.2 350.61,58.2 350.72,58.2 350.82,58.2 350.93,58.2 351.03,58.2 351.14,58.2 351.25,58.2 351.35,58.2 351.46,58.2 351.56,58.2 351.67,58.2 355.9,58.2 360.12,58.2" fill="none" stroke="#823896" stroke-width="1.5" stroke-dasharray="4.9 1.4 2.0 1.4" stroke-linejoin="round" clip-path="url(#cB)"/>
<polyline points="326.3,37.4 326.41,38.17 326.51,38.91 326.62,39.62 326.72,40.3 326.83,40.96 326.93,41.6 327.04,42.21 327.15,42.8 327.25,43.37 327.36,43.92 327.46,44.44 327.57,44.95 327.67,45.44 327.78,45.91 327.89,46.37 327.99,46.8 328.1,47.22 328.2,47.63 328.31,48.02 328.41,48.39 328.52,48.76 328.63,49.1 328.73,49.44 328.84,49.76 328.94,50.07 329.05,50.37 329.15,50.66 329.26,50.94 329.37,51.21 329.47,51.47 329.58,51.71 329.68,51.95 329.79,52.18 329.89,52.41 330,52.62 330.11,52.83 330.21,53.02 330.32,53.22 330.42,53.4 330.53,53.58 330.63,53.75 330.74,53.91 330.85,54.07 330.95,54.22 331.06,54.37 331.16,54.51 331.27,54.65 331.37,54.78 331.48,54.9 331.59,55.03 331.69,55.14 331.8,55.26 331.9,55.36 332.01,55.47 332.11,55.57 332.22,55.67 332.32,55.76 332.43,55.85 332.54,55.94 332.64,56.02 332.75,56.1 332.85,56.18 332.96,56.25 333.06,56.32 333.17,56.39 333.28,56.46 333.38,56.52 333.49,56.59 333.59,56.65 333.7,56.7 333.8,56.76 333.91,56.81 334.02,56.86 334.12,56.91 334.23,56.96 334.33,57.01 334.44,57.05 334.54,57.09 334.65,57.13 334.76,57.17 334.86,57.21 334.97,57.25 335.07,57.28 335.18,57.32 335.28,57.35 335.39,57.38 335.5,57.41 335.6,57.44 335.71,57.47 335.81,57.49 335.92,57.52 336.02,57.55 336.13,57.57 336.24,57.59 336.34,57.62 336.45,57.64 336.55,57.66 336.66,57.68 336.76,57.7 336.87,57.72 336.98,57.73 337.08,57.75 337.19,57.77 337.29,57.78 337.4,57.8 337.5,57.81 337.61,57.83 337.72,57.84 337.82,57.85 337.93,57.87 338.03,57.88 338.14,57.89 338.24,57.9 338.35,57.91 338.46,57.92 338.56,57.93 338.67,57.94 338.77,57.95 338.88,57.96 338.98,57.97 339.09,57.98 339.2,57.99 339.3,58 339.41,58 339.51,58.01 339.62,58.02 339.72,58.02 339.83,58.03 339.94,58.04 340.04,58.04 340.15,58.05 340.25,58.05 340.36,58.06 340.46,58.07 340.57,58.07 340.68,58.07 340.78,58.08 340.89,58.08 340.99,58.09 341.1,58.09 341.2,58.1 341.31,58.1 341.42,58.1 341.52,58.11 341.63,58.11 341.73,58.11 341.84,58.12 341.94,58.12 342.05,58.12 342.15,58.13 342.26,58.13 342.37,58.13 342.47,58.13 342.58,58.14 342.68,58.14 342.79,58.14 342.89,58.14 343,58.15 343.11,58.15 343.21,58.15 343.32,58.15 343.42,58.15 343.53,58.15 343.63,58.16 343.74,58.16 343.85,58.16 343.95,58.16 344.06,58.16 344.16,58.16 344.27,58.17 344.37,58.17 344.48,58.17 344.59,58.17 344.69,58.17 344.8,58.17 344.9,58.17 345.01,58.17 345.11,58.17 345.22,58.18 345.33,58.18 345.43,58.18 345.54,58.18 345.64,58.18 345.75,58.18 345.85,58.18 345.96,58.18 346.07,58.18 346.17,58.18 346.28,58.18 346.38,58.18 346.49,58.18 346.59,58.18 346.7,58.19 346.81,58.19 346.91,58.19 347.02,58.19 347.12,58.19 347.23,58.19 347.33,58.19 347.44,58.19 347.55,58.19 347.65,58.19 347.76,58.19 347.86,58.19 347.97,58.19 348.07,58.19 348.18,58.19 348.29,58.19 348.39,58.19 348.5,58.19 348.6,58.19 348.71,58.19 348.81,58.19 348.92,58.19 349.03,58.19 349.13,58.19 349.24,58.19 349.34,58.19 349.45,58.19 349.55,58.19 349.66,58.19 349.77,58.2 349.87,58.2 349.98,58.2 350.08,58.2 350.19,58.2 350.29,58.2 350.4,58.2 350.51,58.2 350.61,58.2 350.72,58.2 350.82,58.2 350.93,58.2 351.03,58.2 351.14,58.2 351.25,58.2 351.35,58.2 351.46,58.2 351.56,58.2 351.67,58.2 355.9,58.2 360.12,58.2 364.35,58.2 368.58,58.2 372.81,58.2 377.04,58.2 381.26,58.2 385.49,58.2 389.72,58.2 393.95,58.2 398.18,58.2 402.4,58.2 406.63,58.2 410.86,58.2 415.09,58.2 419.32,58.2 423.54,58.2 427.77,58.2 432,58.2 436.23,58.2 440.46,58.2 444.68,58.2 448.91,58.2 453.14,58.2 457.37,58.2 461.6,58.2 465.82,58.2 470.05,58.2 474.28,58.2 478.51,58.2 482.74,58.2 486.96,58.2 491.19,58.2 495.42,58.2 499.65,58.2 503.88,58.2 508.1,58.2 512.33,58.2 516.56,58.2 520.79,58.2 525.02,58.2 529.24,58.2 533.47,58.2 537.7,58.2" fill="none" stroke="#79AE35" stroke-width="1.5" stroke-linejoin="round" clip-path="url(#cB)"/>
<polyline points="326.3,79 326.41,78.33 326.51,77.67 326.62,77 326.72,76.34 326.83,75.67 326.93,74.84 327.04,74.01 327.15,73.18 327.25,72.34 327.36,71.51 327.46,70.61 327.57,69.71 327.67,68.81 327.78,67.91 327.89,67.01 327.99,66.1 328.1,65.45 328.2,64.79 328.31,64.13 328.41,63.47 328.52,62.81 328.63,62.15 328.73,61.87 328.84,61.58 328.94,61.29 329.05,61.01 329.15,60.72 329.26,60.44 329.37,60.15 329.47,59.86 329.58,59.77 329.68,59.69 329.79,59.6 329.89,59.51 330,59.42 330.11,59.33 330.21,59.24 330.32,59.15 330.42,59.06 330.53,58.97 330.63,58.88 330.74,58.79 330.85,58.71 330.95,58.62 331.06,58.6 331.16,58.57 331.27,58.55 331.37,58.53 331.48,58.51 331.59,58.49 331.69,58.47 331.8,58.45 331.9,58.43 332.01,58.41 332.11,58.39 332.22,58.37 332.32,58.35 332.43,58.32 332.54,58.3 332.64,58.28 332.75,58.28 332.85,58.27 332.96,58.27 333.06,58.27 333.17,58.26 333.28,58.26 333.38,58.25 333.49,58.25 333.59,58.25 333.7,58.24 333.8,58.24 333.91,58.23 334.02,58.23 334.12,58.22 334.23,58.22 334.33,58.22 334.44,58.21 334.54,58.21 334.65,58.2 334.76,58.2 334.86,58.2 334.97,58.2 335.07,58.2 335.18,58.2 335.28,58.2 335.39,58.2 335.5,58.2 335.6,58.2 335.71,58.2 335.81,58.2 335.92,58.2 336.02,58.2 336.13,58.2 336.24,58.2 336.34,58.2 336.45,58.2 336.55,58.2 336.66,58.2 336.76,58.2 336.87,58.2 336.98,58.2 337.08,58.2 337.19,58.2 337.29,58.2 337.4,58.2 337.5,58.2 337.61,58.2 337.72,58.2 337.82,58.2 337.93,58.2 338.03,58.2 338.14,58.2 338.24,58.2 338.35,58.2 338.46,58.2 338.56,58.2 338.67,58.2 338.77,58.2 338.88,58.2 338.98,58.2 339.09,58.2 339.2,58.2 339.3,58.2 339.41,58.2 339.51,58.2 339.62,58.2 339.72,58.2 339.83,58.2 339.94,58.2 340.04,58.2 340.15,58.2 340.25,58.2 340.36,58.2 340.46,58.2 340.57,58.2 340.68,58.2 340.78,58.2 340.89,58.2 340.99,58.2 341.1,58.2 341.2,58.2 341.31,58.2 341.42,58.2 341.52,58.2 341.63,58.2 341.73,58.2 341.84,58.2 341.94,58.2 342.05,58.2 342.15,58.2 342.26,58.2 342.37,58.2 342.47,58.2 342.58,58.2 342.68,58.2 342.79,58.2 342.89,58.2 343,58.2 343.11,58.2 343.21,58.2 343.32,58.2 343.42,58.2 343.53,58.2 343.63,58.2 343.74,58.2 343.85,58.2 343.95,58.2 344.06,58.2 344.16,58.2 344.27,58.2 344.37,58.2 344.48,58.2 344.59,58.2 344.69,58.2 344.8,58.2 344.9,58.2 345.01,58.2 345.11,58.2 345.22,58.2 345.33,58.2 345.43,58.2 345.54,58.2 345.64,58.2 345.75,58.2 345.85,58.2 345.96,58.2 346.07,58.2 346.17,58.2 346.28,58.2 346.38,58.2 346.49,58.2 346.59,58.2 346.7,58.2 346.81,58.2 346.91,58.2 347.02,58.2 347.12,58.2 347.23,58.2 347.33,58.2 347.44,58.2 347.55,58.2 347.65,58.2 347.76,58.2 347.86,58.2 347.97,58.2 348.07,58.2 348.18,58.2 348.29,58.2 348.39,58.2 348.5,58.2 348.6,58.2 348.71,58.2 348.81,58.2 348.92,58.2 349.03,58.2 349.13,58.2 349.24,58.2 349.34,58.2 349.45,58.2 349.55,58.2 349.66,58.2 349.77,58.2 349.87,58.2 349.98,58.2 350.08,58.2 350.19,58.2 350.29,58.2 350.4,58.2 350.51,58.2 350.61,58.2 350.72,58.2 350.82,58.2 350.93,58.2 351.03,58.2 351.14,58.2 351.25,58.2 351.35,58.2 351.46,58.2 351.56,58.2 351.67,58.2 355.9,58.2 360.12,58.2 364.35,58.2 368.58,58.2 372.81,58.2 377.04,58.2 381.26,58.2 385.49,58.2 389.72,58.2 393.95,58.2 398.18,58.2 402.4,58.2 406.63,58.2 410.86,58.2 415.09,58.2 419.32,58.2 423.54,58.2 427.77,58.2 432,58.2 436.23,58.2 440.46,58.2 444.68,58.2 448.91,58.2 453.14,58.2 457.37,58.2 461.6,58.2 465.82,58.2 470.05,58.2 474.28,58.2 478.51,58.2 482.74,58.2 486.96,58.2 491.19,58.2 495.42,58.2 499.65,58.2 503.88,58.2 508.1,58.2 512.33,58.2 516.56,58.2 520.79,58.2 525.02,58.2 529.24,58.2 533.47,58.2 537.7,58.2" fill="none" stroke="#52C0EE" stroke-width="1.5" stroke-dasharray="4.6 4.7" stroke-linejoin="round" clip-path="url(#cB)"/>
<rect x="488" y="86.2" width="40.8" height="49.9" fill="#fff" stroke="#262626" stroke-width="0.9"/>
<line x1="490.3" y1="91" x2="509.4" y2="91" stroke="#0B76C4" stroke-width="1.5"/>
<text x="510.7" y="93.27" font-size="6.3" text-anchor="start" fill="#262626">UAV1</text>
<line x1="490.3" y1="99.08" x2="509.4" y2="99.08" stroke="#DB5A22" stroke-width="1.5" stroke-dasharray="4.7 4.6"/>
<text x="510.7" y="101.35" font-size="6.3" text-anchor="start" fill="#262626">UAV2</text>
<line x1="490.3" y1="107.16" x2="509.4" y2="107.16" stroke="#EEB42A" stroke-width="1.5" stroke-dasharray="1.2 1.1"/>
<text x="510.7" y="109.43" font-size="6.3" text-anchor="start" fill="#262626">UAV3</text>
<line x1="490.3" y1="115.24" x2="509.4" y2="115.24" stroke="#823896" stroke-width="1.5" stroke-dasharray="4.9 1.4 2.0 1.4"/>
<text x="510.7" y="117.51" font-size="6.3" text-anchor="start" fill="#262626">UAV4</text>
<line x1="490.3" y1="123.32" x2="509.4" y2="123.32" stroke="#79AE35" stroke-width="1.5"/>
<text x="510.7" y="125.59" font-size="6.3" text-anchor="start" fill="#262626">UAV5</text>
<line x1="490.3" y1="131.4" x2="509.4" y2="131.4" stroke="#52C0EE" stroke-width="1.5" stroke-dasharray="4.6 4.7"/>
<text x="510.7" y="133.67" font-size="6.3" text-anchor="start" fill="#262626">UAV6</text>
<line x1="29.7" y1="406.9" x2="29.7" y2="278.1" stroke="#1e1e1e" stroke-width="1.25"/>
<line x1="26.1" y1="406.9" x2="29.7" y2="406.9" stroke="#1e1e1e" stroke-width="1"/>
<text x="23.1" y="409.28" font-size="6.6" text-anchor="end" fill="#262626">0</text>
<line x1="26.1" y1="390.8" x2="29.7" y2="390.8" stroke="#1e1e1e" stroke-width="1"/>
<text x="24.1" y="393.18" font-size="6.6" text-anchor="end" fill="#262626">50</text>
<line x1="26.1" y1="374.7" x2="29.7" y2="374.7" stroke="#1e1e1e" stroke-width="1"/>
<text x="24.1" y="377.08" font-size="6.6" text-anchor="end" fill="#262626">100</text>
<line x1="26.1" y1="358.6" x2="29.7" y2="358.6" stroke="#1e1e1e" stroke-width="1"/>
<text x="24.1" y="360.98" font-size="6.6" text-anchor="end" fill="#262626">150</text>
<line x1="26.1" y1="342.5" x2="29.7" y2="342.5" stroke="#1e1e1e" stroke-width="1"/>
<text x="24.1" y="344.88" font-size="6.6" text-anchor="end" fill="#262626">200</text>
<line x1="26.1" y1="326.4" x2="29.7" y2="326.4" stroke="#1e1e1e" stroke-width="1"/>
<text x="24.1" y="328.78" font-size="6.6" text-anchor="end" fill="#262626">250</text>
<line x1="26.1" y1="310.3" x2="29.7" y2="310.3" stroke="#1e1e1e" stroke-width="1"/>
<text x="24.1" y="312.68" font-size="6.6" text-anchor="end" fill="#262626">300</text>
<line x1="26.1" y1="294.2" x2="29.7" y2="294.2" stroke="#1e1e1e" stroke-width="1"/>
<text x="24.1" y="296.58" font-size="6.6" text-anchor="end" fill="#262626">350</text>
<line x1="26.1" y1="278.1" x2="29.7" y2="278.1" stroke="#1e1e1e" stroke-width="1"/>
<text x="24.1" y="280.48" font-size="6.6" text-anchor="end" fill="#262626">400</text>
<line x1="29.8" y1="406.9" x2="152.4" y2="416.4" stroke="#1e1e1e" stroke-width="1.25"/>
<line x1="29.8" y1="406.9" x2="27.2" y2="408.7" stroke="#1e1e1e" stroke-width="1"/>
<line x1="54.32" y1="408.8" x2="51.72" y2="410.6" stroke="#1e1e1e" stroke-width="1"/>
<line x1="78.84" y1="410.7" x2="76.24" y2="412.5" stroke="#1e1e1e" stroke-width="1"/>
<line x1="103.36" y1="412.6" x2="100.76" y2="414.4" stroke="#1e1e1e" stroke-width="1"/>
<line x1="127.88" y1="414.5" x2="125.28" y2="416.3" stroke="#1e1e1e" stroke-width="1"/>
<line x1="152.4" y1="416.4" x2="149.8" y2="418.2" stroke="#1e1e1e" stroke-width="1"/>
<text x="17" y="416.6" font-size="6.6" text-anchor="middle" fill="#262626">4000</text>
<text x="41.9" y="418.7" font-size="6.6" text-anchor="middle" fill="#262626">3000</text>
<text x="66.6" y="420.7" font-size="6.6" text-anchor="middle" fill="#262626">2000</text>
<text x="91.9" y="422.6" font-size="6.6" text-anchor="middle" fill="#262626">1000</text>
<text x="122" y="424.2" font-size="6.6" text-anchor="middle" fill="#262626">0</text>
<text x="141" y="426.3" font-size="6.6" text-anchor="middle" fill="#262626">-1000</text>
<text x="88.6" y="433" font-size="6.95" text-anchor="middle" fill="#262626">y/m</text>
<line x1="152.4" y1="416.6" x2="196.3" y2="387.8" stroke="#1e1e1e" stroke-width="1.25"/>
<line x1="159.6" y1="412" x2="162.8" y2="412" stroke="#1e1e1e" stroke-width="1"/>
<line x1="177.9" y1="400" x2="181.1" y2="400" stroke="#1e1e1e" stroke-width="1"/>
<line x1="196.3" y1="387.8" x2="199.5" y2="387.8" stroke="#1e1e1e" stroke-width="1"/>
<text x="166.2" y="420.9" font-size="6.6" text-anchor="middle" fill="#262626">0</text>
<text x="190" y="408" font-size="6.6" text-anchor="middle" fill="#262626">2000</text>
<text x="208.8" y="394.8" font-size="6.6" text-anchor="middle" fill="#262626">4000</text>
<text x="195.7" y="428.3" font-size="6.95" text-anchor="middle" fill="#262626">x/m</text>
<text x="10" y="342.8" font-size="6.95" text-anchor="middle" fill="#262626" transform="rotate(-90 10 342.8)">z/m</text>
<text x="112.7" y="246.3" font-size="7.15" text-anchor="middle" fill="#262626">position curve</text>
<polyline points="91.8,288.2 138.4,311.9 141.5,313.2 143.8,314.4 141.5,315.5 139.2,316.6 137.5,319 136.2,324 135.4,331.5 134.6,345 134.2,360 133,380 132.4,394.5" fill="none" stroke="#0B76C4" stroke-width="1.5" stroke-linejoin="round"/>
<polyline points="86.4,286.4 139.5,312.5 140.5,313.8 139.5,318 138.7,322 137.8,335 136.5,350 135.4,362 134.2,385 133.4,407" fill="none" stroke="#DB5A22" stroke-width="1.5" stroke-dasharray="4.7 4.6" stroke-linejoin="round"/>
<polyline points="78.2,283 127.2,308.5 128.2,311 127.8,315.8 128.3,330 129.2,350 129.8,370 130.5,397.4" fill="none" stroke="#EEB42A" stroke-width="1.5" stroke-dasharray="1.2 1.1" stroke-linejoin="round"/>
<polyline points="72.3,286.4 121.2,312.4 126,312.6 130.6,311.9 132.5,310 132.8,304.6" fill="none" stroke="#823896" stroke-width="1.5" stroke-dasharray="4.9 1.4 2.0 1.4" stroke-linejoin="round"/>
<polyline points="131.9,298.2 130.5,303 127.2,309.8 122.9,314.1 118.5,316.3 115.2,316.7 113.5,316.2 66.4,290.5" fill="none" stroke="#79AE35" stroke-width="1.5" stroke-linejoin="round"/>
<polyline points="82.3,291.4 125.5,313.2 128.5,314.2 130.2,315 131,320 131.8,327 132.3,333.5" fill="none" stroke="#52C0EE" stroke-width="1.5" stroke-dasharray="4.6 4.7" stroke-linejoin="round"/>
<rect x="214.3" y="249.6" width="39.7" height="50.2" fill="#fff" stroke="#262626" stroke-width="0.9"/>
<line x1="216.3" y1="254.3" x2="235.3" y2="254.3" stroke="#0B76C4" stroke-width="1.5"/>
<text x="236.6" y="256.57" font-size="6.3" text-anchor="start" fill="#262626">UAV1</text>
<line x1="216.3" y1="262.36" x2="235.3" y2="262.36" stroke="#DB5A22" stroke-width="1.5" stroke-dasharray="4.7 4.6"/>
<text x="236.6" y="264.63" font-size="6.3" text-anchor="start" fill="#262626">UAV2</text>
<line x1="216.3" y1="270.42" x2="235.3" y2="270.42" stroke="#EEB42A" stroke-width="1.5" stroke-dasharray="1.2 1.1"/>
<text x="236.6" y="272.69" font-size="6.3" text-anchor="start" fill="#262626">UAV3</text>
<line x1="216.3" y1="278.48" x2="235.3" y2="278.48" stroke="#823896" stroke-width="1.5" stroke-dasharray="4.9 1.4 2.0 1.4"/>
<text x="236.6" y="280.75" font-size="6.3" text-anchor="start" fill="#262626">UAV4</text>
<line x1="216.3" y1="286.54" x2="235.3" y2="286.54" stroke="#79AE35" stroke-width="1.5"/>
<text x="236.6" y="288.81" font-size="6.3" text-anchor="start" fill="#262626">UAV5</text>
<line x1="216.3" y1="294.6" x2="235.3" y2="294.6" stroke="#52C0EE" stroke-width="1.5" stroke-dasharray="4.6 4.7"/>
<text x="236.6" y="296.87" font-size="6.3" text-anchor="start" fill="#262626">UAV6</text>
<clipPath id="cD"><rect x="325.3" y="249.8" width="212.40000000000003" height="166.3"/></clipPath>
<rect x="326.3" y="249.8" width="211.4" height="166.3" fill="none" stroke="#1e1e1e" stroke-width="1.25"/>
<line x1="326.3" y1="416.1" x2="326.3" y2="414" stroke="#1e1e1e" stroke-width="0.9"/>
<line x1="326.3" y1="249.8" x2="326.3" y2="251.9" stroke="#1e1e1e" stroke-width="0.9"/>
<text x="326.3" y="426.1" font-size="6.6" text-anchor="middle" fill="#262626">0</text>
<line x1="347.44" y1="416.1" x2="347.44" y2="414" stroke="#1e1e1e" stroke-width="0.9"/>
<line x1="347.44" y1="249.8" x2="347.44" y2="251.9" stroke="#1e1e1e" stroke-width="0.9"/>
<text x="347.44" y="426.1" font-size="6.6" text-anchor="middle" fill="#262626">10</text>
<line x1="368.58" y1="416.1" x2="368.58" y2="414" stroke="#1e1e1e" stroke-width="0.9"/>
<line x1="368.58" y1="249.8" x2="368.58" y2="251.9" stroke="#1e1e1e" stroke-width="0.9"/>
<text x="368.58" y="426.1" font-size="6.6" text-anchor="middle" fill="#262626">20</text>
<line x1="389.72" y1="416.1" x2="389.72" y2="414" stroke="#1e1e1e" stroke-width="0.9"/>
<line x1="389.72" y1="249.8" x2="389.72" y2="251.9" stroke="#1e1e1e" stroke-width="0.9"/>
<text x="389.72" y="426.1" font-size="6.6" text-anchor="middle" fill="#262626">30</text>
<line x1="410.86" y1="416.1" x2="410.86" y2="414" stroke="#1e1e1e" stroke-width="0.9"/>
<line x1="410.86" y1="249.8" x2="410.86" y2="251.9" stroke="#1e1e1e" stroke-width="0.9"/>
<text x="410.86" y="426.1" font-size="6.6" text-anchor="middle" fill="#262626">40</text>
<line x1="432" y1="416.1" x2="432" y2="414" stroke="#1e1e1e" stroke-width="0.9"/>
<line x1="432" y1="249.8" x2="432" y2="251.9" stroke="#1e1e1e" stroke-width="0.9"/>
<text x="432" y="426.1" font-size="6.6" text-anchor="middle" fill="#262626">50</text>
<line x1="453.14" y1="416.1" x2="453.14" y2="414" stroke="#1e1e1e" stroke-width="0.9"/>
<line x1="453.14" y1="249.8" x2="453.14" y2="251.9" stroke="#1e1e1e" stroke-width="0.9"/>
<text x="453.14" y="426.1" font-size="6.6" text-anchor="middle" fill="#262626">60</text>
<line x1="474.28" y1="416.1" x2="474.28" y2="414" stroke="#1e1e1e" stroke-width="0.9"/>
<line x1="474.28" y1="249.8" x2="474.28" y2="251.9" stroke="#1e1e1e" stroke-width="0.9"/>
<text x="474.28" y="426.1" font-size="6.6" text-anchor="middle" fill="#262626">70</text>
<line x1="495.42" y1="416.1" x2="495.42" y2="414" stroke="#1e1e1e" stroke-width="0.9"/>
<line x1="495.42" y1="249.8" x2="495.42" y2="251.9" stroke="#1e1e1e" stroke-width="0.9"/>
<text x="495.42" y="426.1" font-size="6.6" text-anchor="middle" fill="#262626">80</text>
<line x1="516.56" y1="416.1" x2="516.56" y2="414" stroke="#1e1e1e" stroke-width="0.9"/>
<line x1="516.56" y1="249.8" x2="516.56" y2="251.9" stroke="#1e1e1e" stroke-width="0.9"/>
<text x="516.56" y="426.1" font-size="6.6" text-anchor="middle" fill="#262626">90</text>
<line x1="537.7" y1="416.1" x2="537.7" y2="414" stroke="#1e1e1e" stroke-width="0.9"/>
<line x1="537.7" y1="249.8" x2="537.7" y2="251.9" stroke="#1e1e1e" stroke-width="0.9"/>
<text x="537.7" y="426.1" font-size="6.6" text-anchor="middle" fill="#262626">100</text>
<line x1="326.3" y1="416.1" x2="328.4" y2="416.1" stroke="#1e1e1e" stroke-width="0.9"/>
<line x1="537.7" y1="416.1" x2="535.6" y2="416.1" stroke="#1e1e1e" stroke-width="0.9"/>
<text x="323.3" y="418.98" font-size="6.6" text-anchor="end" fill="#262626">0</text>
<line x1="326.3" y1="395.31" x2="328.4" y2="395.31" stroke="#1e1e1e" stroke-width="0.9"/>
<line x1="537.7" y1="395.31" x2="535.6" y2="395.31" stroke="#1e1e1e" stroke-width="0.9"/>
<text x="323.3" y="398.19" font-size="6.6" text-anchor="end" fill="#262626">20</text>
<line x1="326.3" y1="374.53" x2="328.4" y2="374.53" stroke="#1e1e1e" stroke-width="0.9"/>
<line x1="537.7" y1="374.53" x2="535.6" y2="374.53" stroke="#1e1e1e" stroke-width="0.9"/>
<text x="323.3" y="377.4" font-size="6.6" text-anchor="end" fill="#262626">40</text>
<line x1="326.3" y1="353.74" x2="328.4" y2="353.74" stroke="#1e1e1e" stroke-width="0.9"/>
<line x1="537.7" y1="353.74" x2="535.6" y2="353.74" stroke="#1e1e1e" stroke-width="0.9"/>
<text x="323.3" y="356.61" font-size="6.6" text-anchor="end" fill="#262626">60</text>
<line x1="326.3" y1="332.95" x2="328.4" y2="332.95" stroke="#1e1e1e" stroke-width="0.9"/>
<line x1="537.7" y1="332.95" x2="535.6" y2="332.95" stroke="#1e1e1e" stroke-width="0.9"/>
<text x="323.3" y="335.83" font-size="6.6" text-anchor="end" fill="#262626">80</text>
<line x1="326.3" y1="312.16" x2="328.4" y2="312.16" stroke="#1e1e1e" stroke-width="0.9"/>
<line x1="537.7" y1="312.16" x2="535.6" y2="312.16" stroke="#1e1e1e" stroke-width="0.9"/>
<text x="323.3" y="315.04" font-size="6.6" text-anchor="end" fill="#262626">100</text>
<line x1="326.3" y1="291.38" x2="328.4" y2="291.38" stroke="#1e1e1e" stroke-width="0.9"/>
<line x1="537.7" y1="291.38" x2="535.6" y2="291.38" stroke="#1e1e1e" stroke-width="0.9"/>
<text x="323.3" y="294.25" font-size="6.6" text-anchor="end" fill="#262626">120</text>
<line x1="326.3" y1="270.59" x2="328.4" y2="270.59" stroke="#1e1e1e" stroke-width="0.9"/>
<line x1="537.7" y1="270.59" x2="535.6" y2="270.59" stroke="#1e1e1e" stroke-width="0.9"/>
<text x="323.3" y="273.46" font-size="6.6" text-anchor="end" fill="#262626">140</text>
<line x1="326.3" y1="249.8" x2="328.4" y2="249.8" stroke="#1e1e1e" stroke-width="0.9"/>
<line x1="537.7" y1="249.8" x2="535.6" y2="249.8" stroke="#1e1e1e" stroke-width="0.9"/>
<text x="323.3" y="252.68" font-size="6.6" text-anchor="end" fill="#262626">160</text>
<text x="432" y="246.3" font-size="7.15" text-anchor="middle" fill="#262626">speed curve</text>
<text x="432" y="435.8" font-size="6.95" text-anchor="middle" fill="#262626">t/s</text>
<text x="308.7" y="332.95" font-size="6.95" text-anchor="middle" fill="#262626" transform="rotate(-90 308.7 332.95)">v/(m/s)</text>
<polyline points="326.5,404.5 326.5,309 328,316 332,330 335.8,351.8 338.2,364 339.5,367 342.4,367.6 350,367.2 358.7,366 370,365.2 386,364.8 420,364.6 537.7,364.5" fill="none" stroke="#0B76C4" stroke-width="1.5" stroke-linejoin="round" clip-path="url(#cD)"/>
<polyline points="326.4,290 327.5,310 329,322 330.4,333.3 331.5,344.2 335.8,350.7 339.1,356.2 341.8,361.6 344,366 348,367 353.3,366 369.6,364.9 400,364.5 537.7,364.4" fill="none" stroke="#DB5A22" stroke-width="1.5" stroke-dasharray="4.7 4.6" stroke-linejoin="round" clip-path="url(#cD)"/>
<polyline points="327,255 328.5,280 329.5,295 330.8,306 332,314 333.3,322 334.6,330 337,336 340.2,344 344,350.5 347.8,355.6 352,358.2 358.7,360.2 371.8,362.2 386,362.9 420,363.8 537.7,364.3" fill="none" stroke="#EEB42A" stroke-width="1.5" stroke-dasharray="1.2 1.1" stroke-linejoin="round" clip-path="url(#cD)"/>
<polyline points="326.5,303 327.2,312.2 329.3,330 331.5,342 334.7,348.5 338,347.3 342.4,346.6 345.6,350.7 347.3,358.4 348.4,367 350.5,368.8 353.3,369 362,367.4 372,366 386,365 420,364.6 537.7,364.5" fill="none" stroke="#823896" stroke-width="1.5" stroke-dasharray="4.9 1.4 2.0 1.4" stroke-linejoin="round" clip-path="url(#cD)"/>
<polyline points="326.3,374.5 326.3,306 330.9,310.5 334,313.5 336.4,318.2 338.5,330 340,338 342.6,351.8 344.4,365 345.1,372 346.5,368 347.3,366 351.1,367.1 360,365.5 386,363.5 420,364 537.7,364.4" fill="none" stroke="#79AE35" stroke-width="1.5" stroke-linejoin="round" clip-path="url(#cD)"/>
<polyline points="326.2,374.5 326.2,251 327.5,251 328.5,280 330.2,310 331.5,330 333.5,345 336.4,360 337.2,373.6 338.5,366 340,361 343.5,360.5 353.3,360.5 363,361.1 371.8,362.2 386,362.5 420,363.8 537.7,364.4" fill="none" stroke="#52C0EE" stroke-width="1.5" stroke-dasharray="4.6 4.7" stroke-linejoin="round" clip-path="url(#cD)"/>
<rect x="492.5" y="254.7" width="40.2" height="49.1" fill="#fff" stroke="#262626" stroke-width="0.9"/>
<line x1="494.6" y1="259.6" x2="514" y2="259.6" stroke="#0B76C4" stroke-width="1.5"/>
<text x="515.2" y="261.87" font-size="6.3" text-anchor="start" fill="#262626">UAV1</text>
<line x1="494.6" y1="267.64" x2="514" y2="267.64" stroke="#DB5A22" stroke-width="1.5" stroke-dasharray="4.7 4.6"/>
<text x="515.2" y="269.91" font-size="6.3" text-anchor="start" fill="#262626">UAV2</text>
<line x1="494.6" y1="275.68" x2="514" y2="275.68" stroke="#EEB42A" stroke-width="1.5" stroke-dasharray="1.2 1.1"/>
<text x="515.2" y="277.95" font-size="6.3" text-anchor="start" fill="#262626">UAV3</text>
<line x1="494.6" y1="283.72" x2="514" y2="283.72" stroke="#823896" stroke-width="1.5" stroke-dasharray="4.9 1.4 2.0 1.4"/>
<text x="515.2" y="285.99" font-size="6.3" text-anchor="start" fill="#262626">UAV4</text>
<line x1="494.6" y1="291.76" x2="514" y2="291.76" stroke="#79AE35" stroke-width="1.5"/>
<text x="515.2" y="294.03" font-size="6.3" text-anchor="start" fill="#262626">UAV5</text>
<line x1="494.6" y1="299.8" x2="514" y2="299.8" stroke="#52C0EE" stroke-width="1.5" stroke-dasharray="4.6 4.7"/>
<text x="515.2" y="302.07" font-size="6.3" text-anchor="start" fill="#262626">UAV6</text>
<text x="138" y="225.6" font-size="14.5" text-anchor="middle" fill="#000" class="cap">(<tspan class="b">a</tspan>)</text>
<text x="426.9" y="225.6" font-size="14.5" text-anchor="middle" fill="#000" class="cap">(<tspan class="b">b</tspan>)</text>
<text x="138.2" y="458.9" font-size="14.5" text-anchor="middle" fill="#000" class="cap">(<tspan class="b">c</tspan>)</text>
<text x="427" y="458.9" font-size="14.5" text-anchor="middle" fill="#000" class="cap">(<tspan class="b">d</tspan>)</text>
</svg></div>
</body></html>
